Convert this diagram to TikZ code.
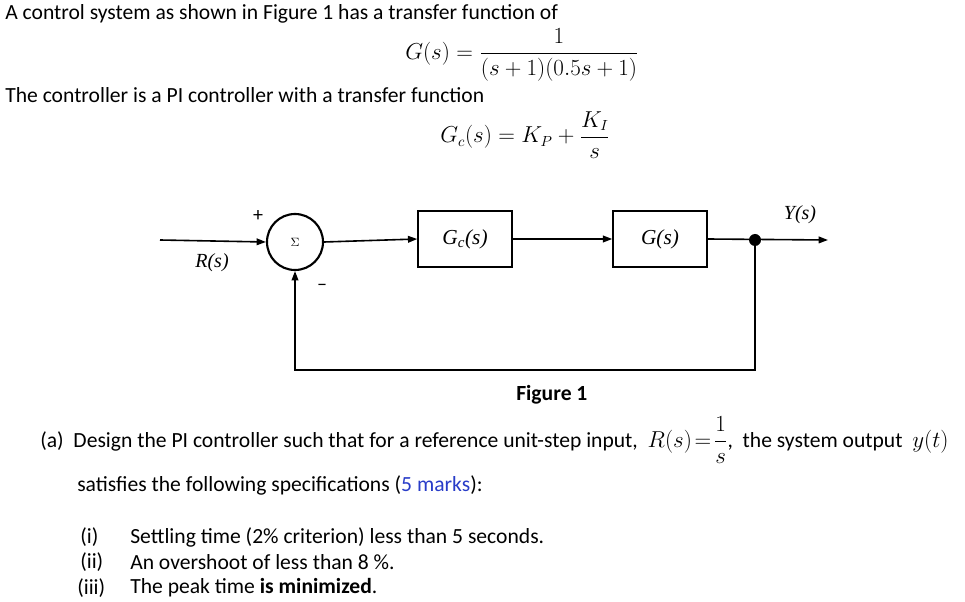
\documentclass[tikz,border=0pt]{standalone}
\usepackage{fontspec}
\setmainfont{Carlito}
\newfontfamily\tms{Liberation Serif}
\usepackage{amsmath}
\usetikzlibrary{arrows.meta}
\begin{document}
\begin{tikzpicture}[x=0.75pt,y=-0.75pt,
  txt/.style={anchor=west,inner sep=0,font=\fontsize{16.2}{19}\selectfont},
  blk/.style={draw,line width=1.6pt,minimum width=70pt,minimum height=42pt,font=\fontsize{16}{19}\selectfont\tms\itshape},
  sig/.style={line width=1.2pt},
  arr/.style={sig,-{Triangle[length=7pt,width=5pt]}},
  lab/.style={font=\fontsize{15}{17}\selectfont\tms\itshape,inner sep=0}]
\useasboundingbox (0,0) rectangle (965,602);
\node[txt] (t1) at (5,14) {A control system as shown in Figure 1 has a transfer function of};
\node[txt] (eq1) at (405,55) {$G(s)=\dfrac{1}{(s+1)(0.5s+1)}$};
\node[txt] (t2) at (5,95) {The controller is a PI controller with a transfer function};
\node[txt] (eq2) at (440,135) {$G_c(s)=K_P+\dfrac{K_I}{s}$};
% block diagram
\coordinate (in) at (160,240);
\node[draw,circle,line width=1.6pt,minimum size=42pt,inner sep=0,font=\small] (sum) at (295,242) {$\Sigma$};
\node[blk] (gc) at (465,239) {G\textsubscript{c}(s)};
\node[blk] (g) at (660,239) {G(s)};
\fill (755,240) circle (4.5pt) coordinate (dot);
\coordinate (out) at (828,240);
\coordinate (bl) at (295,370);
\coordinate (br) at (755,370);
\draw[arr] (in) -- (sum.west);
\draw[arr] (sum.east) -- (gc.west);
\draw[arr] (gc.east) -- (g.west);
\draw[arr] (g.east) -- (out);
\draw[arr] (dot) -- (br) -- (bl) -- (sum.south);
\node[lab,font=\fontsize{15}{17}\selectfont] (ps) at (258,216) {+};
\node[lab,font=\fontsize{15}{17}\selectfont] (ms) at (322,287) {--};
\node[lab] (rs) at (212,263) {R(s)};
\node[lab] (ys) at (800,215) {Y(s)};
\node[txt,font=\fontsize{16.2}{19}\selectfont\bfseries] (fig) at (516,395) {Figure 1};
\node[txt] (a1) at (40,440) {(a)\ \ Design the PI controller such that for a reference unit-step input, \ $R(s)\!=\!\dfrac{1}{s}$, \ the system output \ $y(t)$};
\node[txt] (a2) at (77,485) {satisfies the following specifications ({\color[RGB]{40,60,200}5 marks}):};
\node[txt] (i1) at (80,537) {(i)};
\node[txt] (i2) at (130,537) {Settling time (2\% criterion) less than 5 seconds.};
\node[txt] (ii1) at (80,562) {(ii)};
\node[txt] (ii2) at (130,562) {An overshoot of less than 8 \%.};
\node[txt] (iii1) at (77,588) {(iii)};
\node[txt] (iii2) at (130,588) {The peak time \textbf{is minimized}.};
\end{tikzpicture}
\end{document}
